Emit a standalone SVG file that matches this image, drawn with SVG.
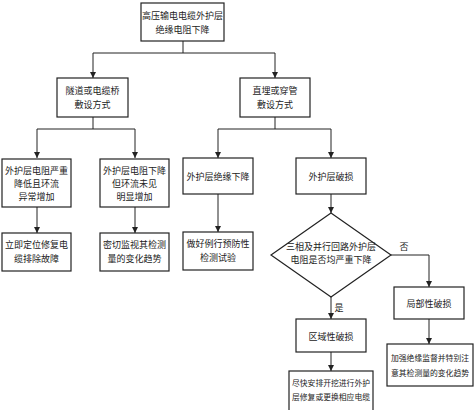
<svg xmlns="http://www.w3.org/2000/svg" width="474" height="410" viewBox="0 0 474 410">
<style>
.b{fill:#fff;stroke:#222;stroke-width:1.2}
.t{font-family:"Noto Sans CJK SC","Liberation Serif",sans-serif;font-size:9px;fill:#222;text-anchor:middle}
.s{font-size:7.8px}
.c{fill:none;stroke:#222;stroke-width:1}
</style>
<defs>
<marker id="a" viewBox="0 0 10 10" refX="10" refY="5" markerWidth="6" markerHeight="6" markerUnits="userSpaceOnUse" orient="auto">
<path d="M0,0 L10,5 L0,10 z" fill="#222"/>
</marker>
</defs>
<rect width="474" height="410" fill="#fff"/>
<g id="connectors">
<path class="c" d="M183,41 V53 H93 V78" marker-end="url(#a)"/>
<path class="c" d="M183,53 H275 V78" marker-end="url(#a)"/>
<path class="c" d="M93,117 V129 H37 V158" marker-end="url(#a)"/>
<path class="c" d="M93,129 H135 V158" marker-end="url(#a)"/>
<path class="c" d="M275,117 V129 H218 V158" marker-end="url(#a)"/>
<path class="c" d="M275,129 H331 V158" marker-end="url(#a)"/>
<path class="c" d="M37,207 V233" marker-end="url(#a)"/>
<path class="c" d="M135,207 V233" marker-end="url(#a)"/>
<path class="c" d="M218,194 V232" marker-end="url(#a)"/>
<path class="c" d="M331,194 V213" marker-end="url(#a)"/>
<path class="c" d="M391,255 H429 V287" marker-end="url(#a)"/>
<path class="c" d="M331,297 V319" marker-end="url(#a)"/>
<path class="c" d="M331,352 V371" marker-end="url(#a)"/>
<path class="c" d="M429,319 V344" marker-end="url(#a)"/>
<text class="t" x="404" y="250">否</text>
<text class="t" x="339" y="311">是</text>
</g>
<g id="n1"><rect class="b" x="141" y="3" width="83" height="38"/><text class="t" x="182.5" y="19">高压输电电缆外护层</text><text class="t" x="182.5" y="33">绝缘电阻下降</text></g>
<g id="n2"><rect class="b" x="57" y="78" width="71" height="39"/><text class="t" x="92.5" y="94">隧道或电缆桥</text><text class="t" x="92.5" y="108">敷设方式</text></g>
<g id="n3"><rect class="b" x="240" y="78" width="70" height="39"/><text class="t" x="275" y="94">直埋或穿管</text><text class="t" x="275" y="108">敷设方式</text></g>
<g id="n4"><rect class="b" x="2" y="159" width="69" height="48"/><text class="t" x="36.5" y="174">外护层电阻严重</text><text class="t" x="36.5" y="187">降低且环流</text><text class="t" x="36.5" y="200">异常增加</text></g>
<g id="n5"><rect class="b" x="100" y="159" width="69" height="48"/><text class="t" x="134.5" y="174">外护层电阻下降</text><text class="t" x="134.5" y="187">但环流未见</text><text class="t" x="134.5" y="200">明显增加</text></g>
<g id="n6"><rect class="b" x="183" y="158" width="70" height="36"/><text class="t" x="218" y="180">外护层绝缘下降</text></g>
<g id="n7"><rect class="b" x="296" y="158" width="70" height="36"/><text class="t" x="331" y="180">外护层破损</text></g>
<g id="n8"><rect class="b" x="2" y="233" width="69" height="38"/><text class="t" x="36.5" y="248">立即定位修复电</text><text class="t" x="36.5" y="262">缆排除故障</text></g>
<g id="n9"><rect class="b" x="100" y="233" width="69" height="38"/><text class="t" x="134.5" y="248">密切监视其检测</text><text class="t" x="134.5" y="262">量的变化趋势</text></g>
<g id="n10"><rect class="b" x="183" y="232" width="70" height="38"/><text class="t" x="218" y="247">做好例行预防性</text><text class="t" x="218" y="261">检测试验</text></g>
<g id="n11"><path class="b" d="M331,213 L391,255 L331,297 L271,255 Z"/><text class="t" x="331" y="250">三相及并行回路外护层</text><text class="t" x="331" y="263">电阻是否均严重下降</text></g>
<g id="n12"><rect class="b" x="394" y="287" width="70" height="32"/><text class="t" x="429" y="307">局部性破损</text></g>
<g id="n13"><rect class="b" x="296" y="319" width="70" height="33"/><text class="t" x="331" y="340">区域性破损</text></g>
<g id="n14"><rect class="b" x="387" y="344" width="86" height="42"/><text class="t s" x="430" y="361">加强绝缘监督并特别注</text><text class="t s" x="430" y="376">意其检测量的变化趋势</text></g>
<g id="n15"><rect class="b" x="289" y="371" width="84" height="42"/><text class="t s" x="331" y="386">尽快安排开挖进行外护</text><text class="t s" x="331" y="400">层修复或更换相应电缆</text></g>
</svg>
